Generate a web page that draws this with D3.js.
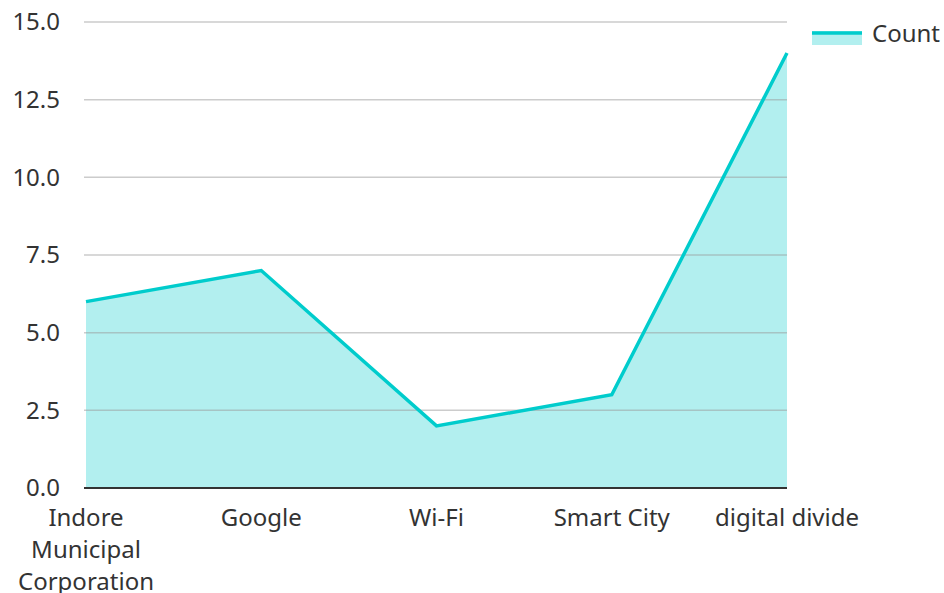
<!DOCTYPE html>
<html>
<head>
<meta charset="utf-8">
<script src="https://cdn.jsdelivr.net/npm/d3@7"></script>
<style>
  body { margin: 0; background: #fff; }
  text { font-family: "Noto Sans", sans-serif; fill: #333; }
</style>
</head>
<body>
<script>
const categories = ["Indore Municipal Corporation", "Google", "Wi-Fi", "Smart City", "digital divide"];
const labelLines = [["Indore", "Municipal", "Corporation"], ["Google"], ["Wi-Fi"], ["Smart City"], ["digital divide"]];
const counts = [6, 7, 2, 3, 14];
const yTicks = [0, 2.5, 5, 7.5, 10, 12.5, 15];

const width = 944, height = 593;
const margin = { left: 86, right: 157, top: 22, bottom: 105 };

const svg = d3.select("body").append("svg")
    .attr("width", width)
    .attr("height", height);

const x = d3.scalePoint()
    .domain(categories)
    .range([margin.left, width - margin.right]);

const y = d3.scaleLinear()
    .domain([0, 15])
    .range([height - margin.bottom, margin.top]);

const lineColor = "#00cccc";
const fillColor = "#b2efef";

// area
svg.append("path")
    .datum(counts)
    .attr("fill", fillColor)
    .attr("d", d3.area()
        .x((d, i) => x(categories[i]))
        .y0(y(0))
        .y1(d => y(d)));

// grid lines (drawn over fill)
svg.append("g")
    .selectAll("line")
    .data(yTicks.filter(t => t > 0))
    .join("line")
    .attr("x1", margin.left - 2)
    .attr("x2", width - margin.right)
    .attr("y1", d => y(d))
    .attr("y2", d => y(d))
    .attr("stroke", "#999")
    .attr("stroke-opacity", 0.5)
    .attr("stroke-width", 1.5);

// y labels
svg.append("g")
    .selectAll("text")
    .data(yTicks)
    .join("text")
    .attr("x", 60)
    .attr("y", d => y(d))
    .attr("dy", "0.35em")
    .attr("text-anchor", "end")
    .attr("font-size", 24)
    .text(d => d3.format(".1f")(d));

// line
svg.append("path")
    .datum(counts)
    .attr("fill", "none")
    .attr("stroke", lineColor)
    .attr("stroke-width", 3.5)
    .attr("d", d3.line()
        .x((d, i) => x(categories[i]))
        .y(d => y(d)));

// baseline
svg.append("line")
    .attr("x1", margin.left - 2)
    .attr("x2", width - margin.right)
    .attr("y1", y(0))
    .attr("y2", y(0))
    .attr("stroke", "#333")
    .attr("stroke-width", 2);

// x labels
const xl = svg.append("g")
    .selectAll("text")
    .data(categories)
    .join("text")
    .attr("text-anchor", "middle")
    .attr("font-size", 24)
    .attr("x", d => x(d))
    .attr("y", y(0) + 38);
xl.selectAll("tspan")
    .data((d, i) => labelLines[i])
    .join("tspan")
    .attr("x", function() { return d3.select(this.parentNode).attr("x"); })
    .attr("dy", (d, i) => i === 0 ? 0 : 32)
    .text(d => d);

// legend
const lg = svg.append("g");
lg.append("rect")
    .attr("x", 812).attr("y", 31)
    .attr("width", 50).attr("height", 14)
    .attr("fill", fillColor);
lg.append("line")
    .attr("x1", 812).attr("x2", 862)
    .attr("y1", 33).attr("y2", 33)
    .attr("stroke", lineColor)
    .attr("stroke-width", 3.5);
lg.append("text")
    .attr("x", 872).attr("y", 34)
    .attr("dy", "0.35em")
    .attr("font-size", 24)
    .text("Count");
</script>
</body>
</html>
